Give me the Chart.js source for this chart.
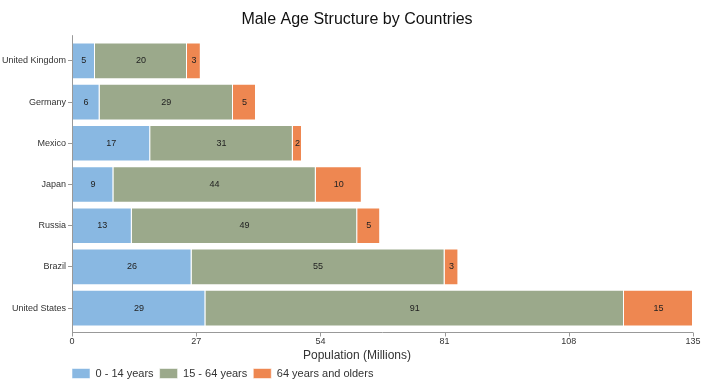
<!DOCTYPE html>
<html>
<head>
<meta charset="utf-8">
<title>Male Age Structure by Countries</title>
<script src="https://cdn.jsdelivr.net/npm/chart.js@4.4.1/dist/chart.umd.min.js"></script>
<style>
    html, body { margin: 0; padding: 0; background: #ffffff; }
    #wrap { width: 702px; height: 391px; position: relative; }
</style>
</head>
<body>
<div id="wrap"><canvas id="ageChart"></canvas></div>
<script>
// Chart data (millions of males per age group)
const countries = ['United Kingdom', 'Germany', 'Mexico', 'Japan', 'Russia', 'Brazil', 'United States'];
const ageYoung = [5, 6, 17, 9, 13, 26, 29];
const ageWorking = [20, 29, 31, 44, 49, 55, 91];
const ageOld = [3, 5, 2, 10, 5, 3, 15];
const seriesNames = ['0 - 14 years', '15 - 64 years', '64 years and olders'];
const xTicks = [0, 27, 54, 81, 108, 135];

const colors = ['#89b8e2', '#9ba98b', '#ee8751'];
const axisColor = '#999999';
const fontFamily = '"Liberation Sans", Arial, sans-serif';

// Draw the value in the middle of each bar segment
const barLabels = {
    id: 'barLabels',
    afterDatasetsDraw(chart) {
        const ctx = chart.ctx;
        ctx.save();
        ctx.font = '9px ' + fontFamily;
        ctx.fillStyle = '#222222';
        ctx.textAlign = 'center';
        ctx.textBaseline = 'middle';
        chart.data.datasets.forEach((ds, i) => {
            const meta = chart.getDatasetMeta(i);
            meta.data.forEach((bar, j) => {
                const cx = (bar.x + bar.base) / 2;
                ctx.fillText(String(ds.data[j]), cx, bar.y);
            });
        });
        ctx.restore();
    }
};

// Axis lines sit a few px outside the bar area, like the original
const axisLines = {
    id: 'axisLines',
    afterDraw(chart) {
        const { ctx, chartArea } = chart;
        const xScale = chart.scales.x;
        const yAxisX = Math.round(chartArea.left) + 0.5;
        const xAxisY = Math.round(chartArea.bottom) + 3.5;
        ctx.save();
        ctx.strokeStyle = axisColor;
        ctx.lineWidth = 1;
        ctx.beginPath();
        ctx.moveTo(yAxisX, chartArea.top - 5);
        ctx.lineTo(yAxisX, xAxisY);
        ctx.moveTo(chartArea.left, xAxisY);
        ctx.lineTo(chartArea.right, xAxisY);
        xTicks.forEach(v => {
            const px = Math.round(xScale.getPixelForValue(v)) + 0.5;
            ctx.moveTo(px, xAxisY);
            ctx.lineTo(px, xAxisY + 4);
        });
        ctx.stroke();
        ctx.restore();
    }
};

// Small nudges: titles sit a bit right of canvas centre, legend starts at the axis
const nudgeBoxes = {
    id: 'nudgeBoxes',
    afterLayout(chart) {
        chart.boxes.forEach(box => {
            if (box.options && typeof box.options.text === 'string' && box.fullSize) {
                box.left += 12;
            }
        });
        if (chart.legend) {
            chart.legend.left -= 6;
        }
    }
};

const ctx = document.getElementById('ageChart').getContext('2d');
new Chart(ctx, {
    type: 'bar',
    data: {
        labels: countries,
        datasets: [
            { label: seriesNames[0], data: ageYoung, backgroundColor: colors[0] },
            { label: seriesNames[1], data: ageWorking, backgroundColor: colors[1] },
            { label: seriesNames[2], data: ageOld, backgroundColor: colors[2] }
        ]
    },
    options: {
        indexAxis: 'y',
        responsive: true,
        maintainAspectRatio: false,
        animation: false,
        layout: { padding: { left: 0, right: 0, bottom: 2 } },
        datasets: {
            bar: {
                barPercentage: 0.89,
                categoryPercentage: 1,
                borderWidth: 1,
                borderColor: 'rgba(255,255,255,0.55)'
            }
        },
        plugins: {
            title: {
                display: true,
                text: 'Male Age Structure by Countries',
                color: '#111111',
                font: { family: fontFamily, size: 16, weight: 'normal' },
                padding: { top: 10, bottom: 11 }
            },
            subtitle: {
                display: true,
                position: 'bottom',
                weight: 500,
                text: 'Population (Millions)',
                color: '#333333',
                font: { family: fontFamily, size: 12, weight: 'normal', lineHeight: 1.1 },
                padding: { top: -1, bottom: 0 }
            },
            legend: {
                position: 'bottom',
                align: 'start',
                fullSize: false,
                labels: {
                    boxWidth: 18,
                    boxHeight: 10,
                    padding: 6,
                    color: '#333333',
                    font: { family: fontFamily, size: 11 }
                }
            },
            tooltip: { enabled: false }
        },
        scales: {
            x: {
                stacked: true,
                min: 0,
                max: 135,
                afterBuildTicks: (scale) => {
                    scale.ticks = xTicks.map(v => ({ value: v }));
                },
                afterFit: (scale) => { scale.paddingRight = 9; },
                grid: {
                    drawOnChartArea: false,
                    drawTicks: true,
                    tickLength: 4,
                    color: 'rgba(0,0,0,0)'
                },
                border: { display: false },
                ticks: {
                    color: '#333333',
                    padding: 4,
                    maxRotation: 0,
                    font: { family: fontFamily, size: 9, lineHeight: 1 }
                }
            },
            y: {
                stacked: true,
                afterFit: (scale) => { scale.width = 72; },
                grid: {
                    offset: false,
                    drawOnChartArea: false,
                    drawTicks: true,
                    tickLength: 4,
                    color: axisColor
                },
                border: { display: false },
                ticks: {
                    color: '#333333',
                    padding: 2,
                    font: { family: fontFamily, size: 9 }
                }
            }
        }
    },
    plugins: [barLabels, axisLines, nudgeBoxes]
});
</script>
</body>
</html>
